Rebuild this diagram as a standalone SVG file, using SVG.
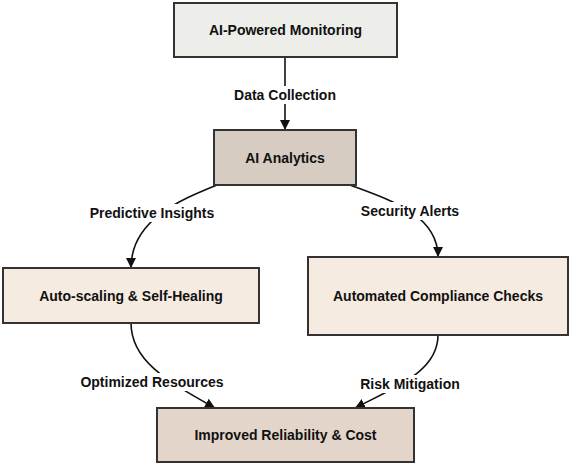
<svg xmlns="http://www.w3.org/2000/svg" width="571" height="465" viewBox="0 0 571 465">
<style>
.node rect{stroke:#333;stroke-width:2}
.node text,.lbl text{font-family:"Liberation Sans",Arial,sans-serif;font-weight:bold;font-size:14px;fill:#111;text-anchor:middle;dominant-baseline:central}
.edge{fill:none;stroke:#111;stroke-width:1.6}
.lbl rect{fill:#fff}
</style>
<defs>
<marker id="arr" viewBox="0 0 10 10" refX="10" refY="5" markerWidth="10" markerHeight="10" markerUnits="userSpaceOnUse" orient="auto">
<path d="M0,0 L10,5 L0,10 z" fill="#111"/>
</marker>
</defs>
<rect width="571" height="465" fill="#fff"/>
<g id="connectors">
<path class="edge" d="M285,57 L285,130" marker-end="url(#arr)"/>
<path class="edge" d="M217,185 C180,200 131,220 131,268" marker-end="url(#arr)"/>
<path class="edge" d="M350,185 C390,200 438,215 438,257" marker-end="url(#arr)"/>
<path class="edge" d="M131,323 C131,360 165,380 215,408" marker-end="url(#arr)"/>
<path class="edge" d="M438,335 C438,370 400,385 355,408" marker-end="url(#arr)"/>
<g class="lbl"><rect x="232" y="86" width="106" height="18"/><text x="285" y="95">Data Collection</text></g>
<g class="lbl"><rect x="89" y="204" width="127" height="18"/><text x="152" y="213">Predictive Insights</text></g>
<g class="lbl"><rect x="360" y="202" width="100" height="18"/><text x="410" y="211">Security Alerts</text></g>
<g class="lbl"><rect x="80" y="373" width="145" height="18"/><text x="152" y="382">Optimized Resources</text></g>
<g class="lbl"><rect x="359" y="375" width="102" height="18"/><text x="410" y="384">Risk Mitigation</text></g>
</g>
<g id="n1" class="node"><rect x="174" y="3" width="223" height="54" fill="#edede9"/><text x="285.5" y="30">AI-Powered Monitoring</text></g>
<g id="n2" class="node"><rect x="214" y="130" width="142" height="55" fill="#d6ccc2"/><text x="285" y="157.5">AI Analytics</text></g>
<g id="n3" class="node"><rect x="3" y="268" width="256" height="55" fill="#f5ebe0"/><text x="131" y="295.5">Auto-scaling &amp; Self-Healing</text></g>
<g id="n4" class="node"><rect x="308" y="257" width="260" height="78" fill="#f5ebe0"/><text x="438" y="296">Automated Compliance Checks</text></g>
<g id="n5" class="node"><rect x="157" y="408" width="257" height="54" fill="#e3d5ca"/><text x="285.5" y="435">Improved Reliability &amp; Cost</text></g>
</svg>
